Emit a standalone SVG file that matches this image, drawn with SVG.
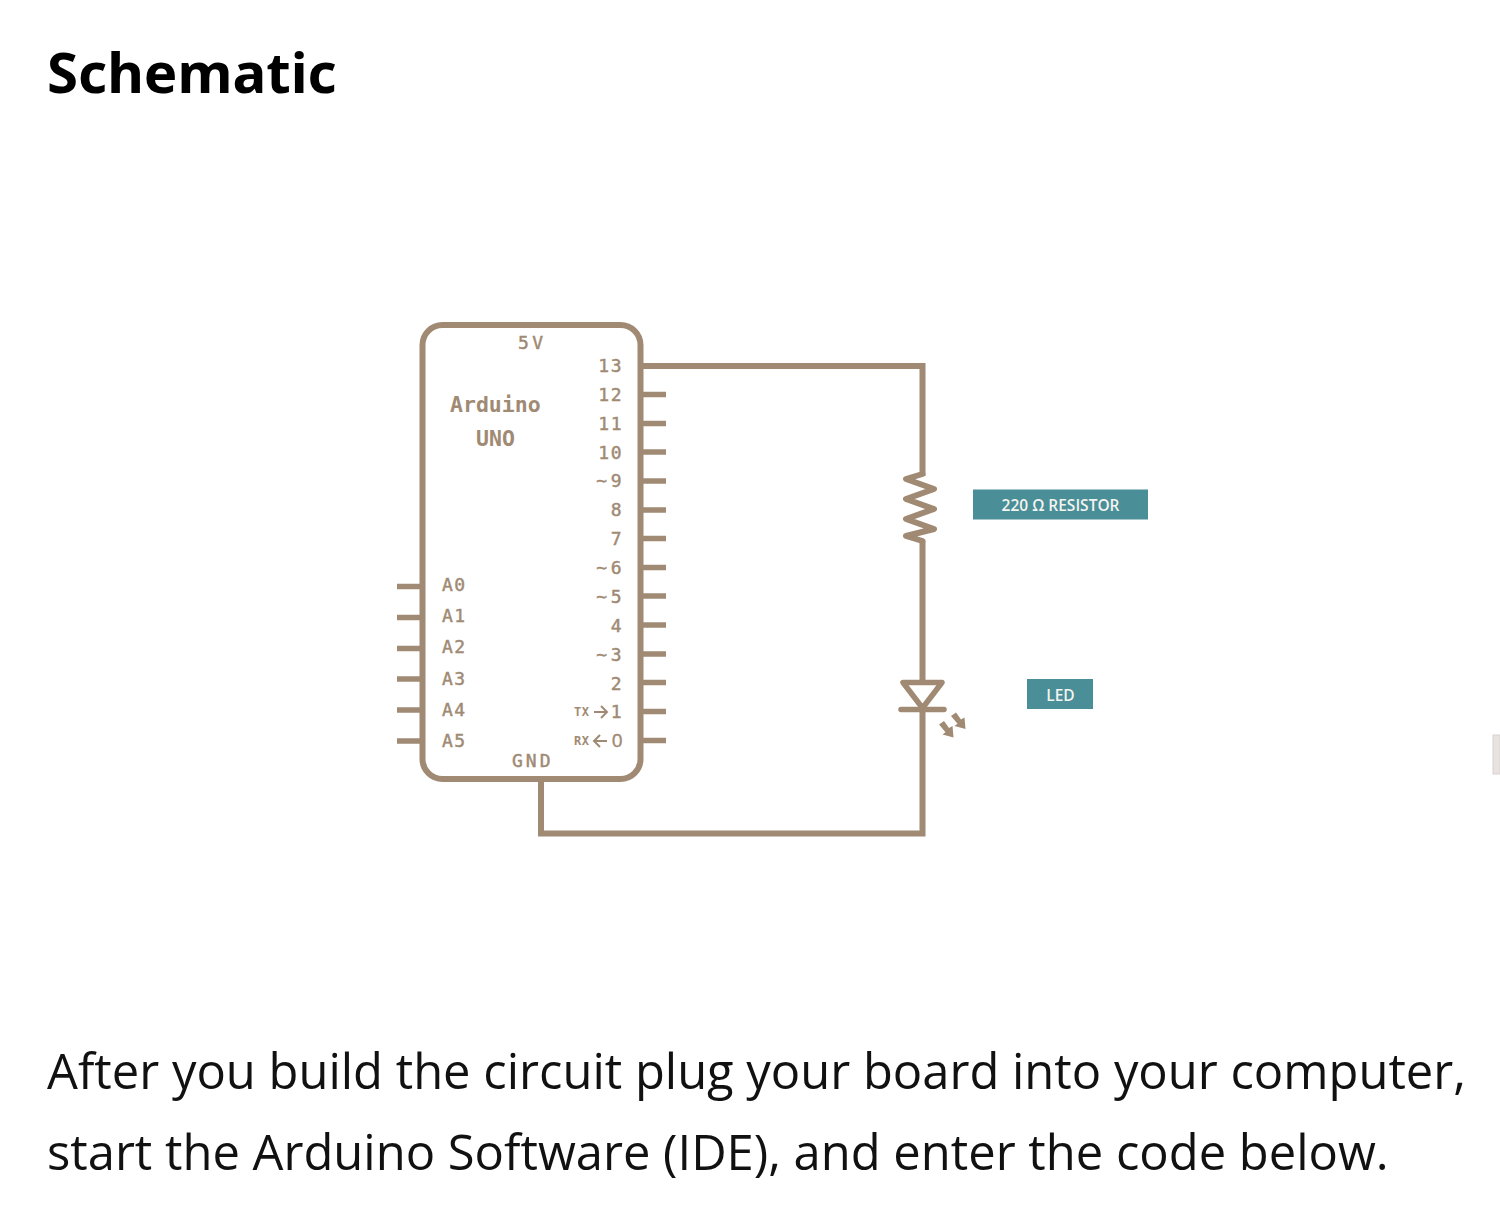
<svg xmlns="http://www.w3.org/2000/svg" width="1500" height="1228" viewBox="0 0 1500 1228">
<style>
.w{fill:none;stroke:#a08a74;stroke-width:6}
.p{fill:none;stroke:#a08a74;stroke-width:5.500}
.m{font-family:"DejaVu Sans Mono","Liberation Mono",monospace;font-size:18px;fill:#a08a74;stroke:#a08a74;stroke-width:.45;letter-spacing:1.500px}
.w3{letter-spacing:3.500px}
.mb{font-family:"DejaVu Sans Mono","Liberation Mono",monospace;font-size:21.500px;fill:#a08a74;font-weight:700;letter-spacing:0}
.s{font-size:12px;letter-spacing:.5px;font-weight:700;stroke-width:0}
.l{font-family:"Open Sans","Noto Sans",sans-serif;font-size:15.500px;font-weight:600;fill:#f4f4f0;text-anchor:middle}
.h{font-family:"Noto Sans","Open Sans",sans-serif;font-size:56.400px;font-weight:700;fill:#000}
.b{font-family:"Open Sans","Noto Sans",sans-serif;font-size:48.900px;fill:#111}
</style>
<rect width="1500" height="1228" fill="#fff"/>
<text class="h" x="47" y="93">Schematic</text>
<g id="connectors">
<path class="w" d="M640 366H922.500V476M922.500 541V684M922.500 708V833.500H541V779"/>
</g>
<g id="arduino">
<rect class="w" x="422.500" y="325" width="218" height="454" rx="20"/>
<path class="p" d="M641 394.500h25M641 423.500h25M641 452h25M641 481h25M641 510h25M641 538.500h25M641 567.500h25M641 596h25M641 625h25M641 654h25M641 682.500h25M641 711.500h25M641 740.500h25"/>
<path class="p" d="M397 586.500h25M397 617.500h25M397 648.500h25M397 679h25M397 710h25M397 741h25"/>
<text class="m w3" x="518" y="349">5V</text>
<text class="mb" x="450" y="412">Arduino</text>
<text class="mb" x="476" y="446">UNO</text>
<g class="m" text-anchor="end">
<text x="623" y="372">13</text><text x="623" y="401">12</text><text x="623" y="430">11</text><text x="623" y="459">10</text><text x="625" y="487" class="w3">~9</text><text x="623" y="516">8</text><text x="623" y="545">7</text><text x="625" y="574" class="w3">~6</text><text x="625" y="603" class="w3">~5</text><text x="623" y="632">4</text><text x="625" y="661" class="w3">~3</text><text x="623" y="690">2</text><text x="623" y="718">1</text>
<text x="622.500" y="747" style="font-family:'Open Sans',sans-serif;font-size:19px;letter-spacing:0">0</text>
</g>
<text class="m s" x="574" y="716">TX</text>
<text class="m s" x="574" y="745">RX</text>
<path fill="none" stroke="#a08a74" stroke-width="2" d="M594 712h12M601 706l6 6-6 6M607 741h-12M600 735l-6 6 6 6"/>
<g class="m"><text x="442" y="591">A0</text><text x="442" y="622">A1</text><text x="442" y="653">A2</text><text x="442" y="685">A3</text><text x="442" y="716">A4</text><text x="442" y="747">A5</text></g>
<text class="m" x="512" y="767" style="letter-spacing:3px">GND</text>
</g>
<g id="resistor">
<path fill="none" stroke="#a08a74" stroke-width="6" stroke-linejoin="round" stroke-linecap="round" d="M922.500 474L906 479L934 489L906 499L934 509L906 519L934 529L906 536L922.500 541"/>
</g>
<g id="led">
<path fill="none" stroke="#a08a74" stroke-width="5.500" stroke-linejoin="round" d="M903 682.500H942L922.500 708Z"/>
<path fill="none" stroke="#a08a74" stroke-width="5.500" stroke-linecap="round" d="M901 709.500H944"/>
<path fill="#a08a74" d="M951 716l5-3.500 5 7 3.500-2 1 11.500-11-3 3-2.300zM939 724.500l5-3.500 5 7 3.500-2 1 11.500-11-3 3-2.300z"/>
</g>
<g id="label-resistor">
<rect x="973" y="489.500" width="175" height="30" fill="#4a8e97"/>
<text class="l" x="1060.500" y="510.500">220 Ω RESISTOR</text>
</g>
<g id="label-led">
<rect x="1027" y="679" width="66" height="30" fill="#4a8e97"/>
<text class="l" x="1060.500" y="700.500">LED</text>
</g>
<rect x="1493" y="735" width="7" height="39" fill="#e8e2e0" stroke="#d8d4d2" stroke-width="1"/>
<text class="b" x="47" y="1089">After you build the circuit plug your board into your computer,</text>
<text class="b" x="47" y="1170">start the Arduino Software (IDE), and enter the code below.</text>
</svg>
